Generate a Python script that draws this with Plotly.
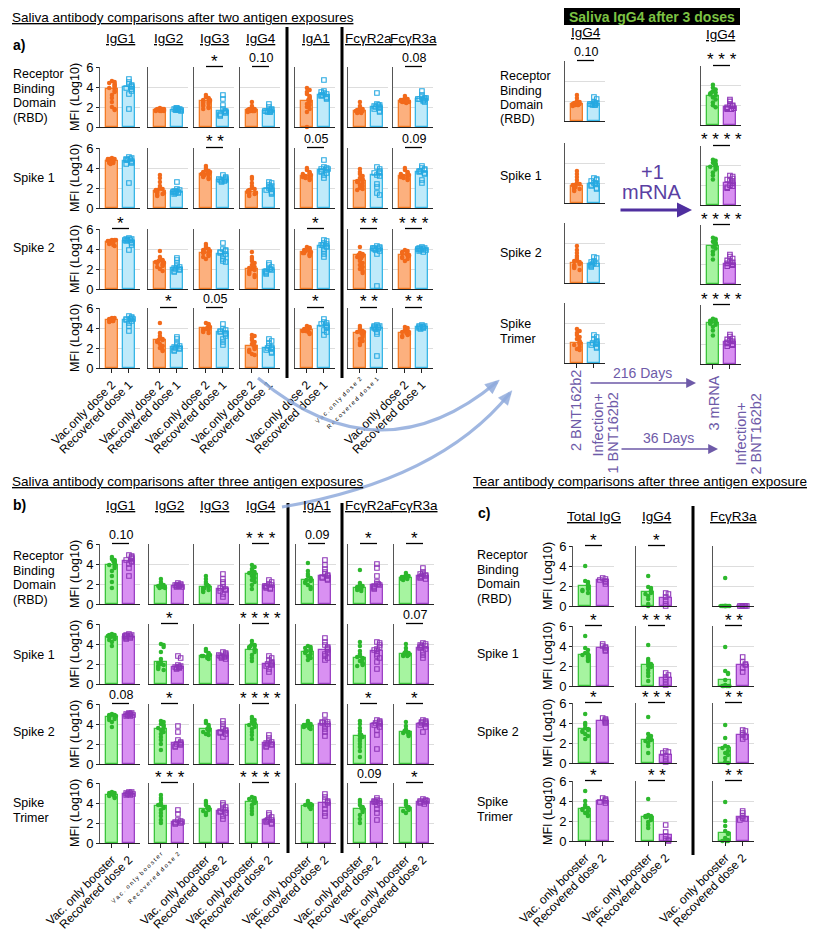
import plotly.graph_objects as go

W, H = 830, 952
OX, OY = 8, 8          # page body margin of the browser
FW, FH = W - OX, H - OY
FONT = "Arial, Liberation Sans, sans-serif"

# ======================= DATA =======================
a_columns = ["IgG1", "IgG2", "IgG3", "IgG4", "IgA1", "FcγR2a", "FcγR3a"]
a_rows = ["Receptor<br>Binding<br>Domain<br>(RBD)", "Spike 1", "Spike 2", ""]
a_groups = ["Vac.only dose 2", "Recovered dose 1"]

a_bar_vac = [[3.8, 1.7, 2.6, 1.7, 2.6, 1.6, 2.6],
             [4.7, 1.7, 3.4, 1.6, 3.2, 2.7, 3.2],
             [4.7, 2.7, 3.6, 2.0, 3.7, 3.4, 3.4],
             [4.8, 2.8, 4.0, 2.2, 3.8, 3.5, 3.5]]
a_bar_rec = [[4.0, 1.7, 1.6, 1.6, 3.2, 2.0, 2.8],
             [4.7, 1.6, 2.8, 1.9, 3.8, 3.3, 3.6],
             [4.8, 2.1, 3.5, 1.9, 4.3, 4.0, 4.0],
             [4.8, 2.1, 3.6, 2.0, 4.2, 4.0, 4.1]]
a_pts_vac = [
    [[4.6, 4.5, 4.4, 4.3, 4.2, 4.1, 4.0, 3.9, 3.8, 3.6, 3.5, 3.2, 2.9, 2.5, 2.0, 1.8, 1.7],
     [1.9, 1.8, 1.8, 1.7, 1.7, 1.7, 1.6, 1.6, 1.7, 1.8, 1.6, 1.7, 1.7, 1.6, 1.8, 1.7],
     [3.2, 3.0, 2.9, 2.8, 2.7, 2.6, 2.5, 2.5, 2.4, 2.3, 2.2, 2.1, 2.0, 1.9, 1.8, 2.6, 2.7],
     [2.5, 2.1, 1.9, 1.8, 1.7, 1.7, 1.6, 1.6, 1.7, 1.8, 1.6, 1.5, 1.7, 1.6, 1.8, 1.7],
     [3.9, 3.7, 3.5, 3.3, 3.1, 3.0, 2.9, 2.8, 2.6, 2.5, 2.3, 2.2, 2.0, 1.8, 1.5, 0.0, 2.7],
     [2.5, 2.1, 1.9, 1.8, 1.7, 1.6, 1.6, 1.5, 1.5, 1.4, 1.4, 1.6, 1.7, 1.5, 1.8, 1.6],
     [3.1, 2.9, 2.8, 2.7, 2.6, 2.6, 2.5, 2.5, 2.6, 2.7, 2.5, 2.4, 2.6, 2.7, 2.5, 2.6]],
    [[5.0, 4.9, 4.9, 4.8, 4.8, 4.7, 4.7, 4.6, 4.6, 4.5, 4.5, 4.4, 4.8, 4.7, 4.6, 4.9],
     [3.3, 3.0, 2.6, 2.2, 2.0, 1.9, 1.8, 1.7, 1.6, 1.5, 1.4, 1.3, 1.2, 1.5, 1.7, 1.8],
     [4.2, 4.0, 3.8, 3.7, 3.6, 3.5, 3.4, 3.3, 3.2, 3.1, 3.0, 2.9, 3.5, 3.3, 3.4, 3.6],
     [3.1, 2.9, 2.5, 2.2, 2.0, 1.9, 1.8, 1.7, 1.6, 1.5, 1.4, 1.3, 1.2, 1.5, 1.7, 1.6],
     [4.0, 3.8, 3.6, 3.5, 3.4, 3.3, 3.2, 3.1, 3.0, 2.9, 2.8, 3.2, 3.3, 3.1, 3.4, 3.0],
     [3.9, 3.6, 3.4, 3.2, 3.0, 2.9, 2.8, 2.7, 2.6, 2.5, 2.3, 2.2, 2.0, 1.9, 1.8, 2.7],
     [4.0, 3.8, 3.6, 3.5, 3.4, 3.3, 3.2, 3.1, 3.0, 2.9, 2.8, 3.2, 3.3, 3.1, 3.4, 3.0]],
    [[4.9, 4.9, 4.8, 4.8, 4.7, 4.7, 4.6, 4.6, 4.5, 4.4, 4.3, 4.8, 4.7, 4.9, 4.6],
     [3.8, 3.2, 3.0, 2.9, 2.8, 2.7, 2.6, 2.5, 2.4, 2.3, 2.2, 2.0, 1.8, 2.8, 2.6, 2.7],
     [4.5, 4.3, 4.1, 4.0, 3.9, 3.8, 3.7, 3.6, 3.5, 3.4, 3.3, 3.2, 3.0, 3.7, 3.8],
     [3.7, 3.2, 3.0, 2.8, 2.6, 2.4, 2.2, 2.0, 1.9, 1.8, 1.7, 1.6, 1.5, 1.4, 1.2, 2.1],
     [4.2, 4.1, 4.0, 3.9, 3.8, 3.7, 3.6, 3.5, 3.4, 3.3, 3.8, 3.7, 3.9, 3.6],
     [4.2, 3.6, 3.5, 3.4, 3.3, 3.2, 3.0, 2.8, 2.6, 2.4, 2.2, 2.0, 1.8, 1.6, 3.4, 3.1],
     [3.9, 3.8, 3.7, 3.6, 3.5, 3.4, 3.3, 3.2, 3.1, 3.0, 2.8, 3.5, 3.4, 3.3]],
    [[5.0, 5.0, 4.9, 4.9, 4.8, 4.8, 4.8, 4.7, 4.7, 4.6, 4.9, 4.8, 4.7],
     [4.5, 3.5, 3.2, 3.0, 2.9, 2.8, 2.7, 2.6, 2.4, 2.2, 2.0, 1.8, 1.7, 2.8],
     [4.5, 4.4, 4.3, 4.2, 4.1, 4.0, 3.9, 3.8, 3.7, 3.6, 3.5, 4.0, 4.1, 3.9],
     [3.3, 3.2, 3.0, 2.8, 2.6, 2.4, 2.2, 2.1, 2.0, 1.9, 1.8, 1.7, 1.6, 1.4, 1.3, 2.3],
     [4.2, 4.1, 4.0, 3.9, 3.9, 3.8, 3.8, 3.7, 3.6, 3.5, 3.4, 3.7, 3.9],
     [4.2, 4.0, 3.8, 3.7, 3.6, 3.5, 3.4, 3.3, 3.1, 2.9, 2.7, 2.5, 2.3, 3.5, 3.6],
     [4.1, 4.0, 3.8, 3.7, 3.6, 3.5, 3.4, 3.3, 3.2, 3.1, 3.5, 3.6, 3.4]]]
a_pts_rec = [
    [[4.8, 4.5, 4.3, 4.2, 4.1, 4.0, 3.9, 3.8, 3.6, 3.3, 1.8],
     [1.9, 1.8, 1.8, 1.7, 1.7, 1.7, 1.6, 1.8, 1.7, 1.9],
     [3.2, 2.8, 2.2, 1.8, 1.6, 1.5, 1.4, 1.3, 1.2, 1.1, 1.6],
     [2.3, 2.0, 1.8, 1.7, 1.6, 1.6, 1.5, 1.5, 1.6, 1.7, 1.5],
     [4.7, 3.6, 3.4, 3.3, 3.2, 3.1, 3.0, 2.9, 2.8, 3.5, 3.2],
     [3.4, 2.3, 2.2, 2.1, 2.0, 1.9, 1.8, 1.6, 1.5, 2.2, 2.0],
     [3.6, 3.2, 3.0, 2.9, 2.8, 2.8, 2.7, 2.6, 2.5, 2.9, 2.8]],
    [[5.1, 5.0, 4.9, 4.9, 4.8, 4.7, 4.6, 4.5, 4.4, 2.5, 4.8],
     [2.6, 1.9, 1.8, 1.7, 1.6, 1.6, 1.5, 1.5, 1.4, 1.6, 1.7],
     [3.3, 3.1, 3.0, 2.9, 2.8, 2.8, 2.7, 2.7, 2.6, 2.9],
     [2.6, 2.5, 2.3, 2.2, 2.0, 1.9, 1.8, 1.6, 1.5, 1.4, 2.1],
     [4.8, 4.1, 4.0, 3.9, 3.8, 3.7, 3.6, 3.5, 3.3, 3.0, 3.9],
     [4.1, 3.9, 3.7, 3.6, 3.5, 3.3, 3.2, 2.4, 2.1, 1.5, 1.3, 3.5],
     [4.2, 4.0, 3.9, 3.8, 3.7, 3.6, 3.5, 3.4, 2.8, 2.5, 3.7]],
    [[5.1, 5.0, 5.0, 4.9, 4.9, 4.8, 4.7, 4.6, 4.4, 3.9, 4.9],
     [3.1, 2.9, 2.6, 2.3, 2.2, 2.1, 2.0, 1.9, 1.8, 1.7, 2.0],
     [4.6, 4.0, 3.9, 3.8, 3.7, 3.6, 3.5, 3.3, 3.0, 2.8, 2.7],
     [2.6, 2.4, 2.2, 2.0, 1.9, 1.8, 1.7, 1.6, 1.5, 2.0],
     [4.9, 4.8, 4.6, 4.5, 4.4, 4.3, 4.2, 4.0, 3.8, 3.5, 3.2, 4.4],
     [4.3, 4.2, 4.1, 4.1, 4.0, 4.0, 3.9, 3.8, 3.5, 0.3, 4.1],
     [4.2, 4.1, 4.1, 4.0, 4.0, 3.9, 3.9, 3.8, 3.7, 4.0]],
    [[5.2, 5.1, 5.0, 4.9, 4.9, 4.8, 4.7, 4.5, 4.2, 3.7, 4.9],
     [3.1, 2.9, 2.5, 2.3, 2.2, 2.1, 2.0, 1.9, 1.8, 1.7, 2.0],
     [4.4, 3.9, 3.8, 3.7, 3.6, 3.5, 3.4, 3.2, 2.9, 2.6, 2.3],
     [2.9, 2.7, 2.5, 2.2, 2.1, 2.0, 1.9, 1.8, 1.6, 1.5, 2.0],
     [4.9, 4.6, 4.5, 4.4, 4.3, 4.2, 4.1, 4.0, 3.8, 3.6, 3.3],
     [4.3, 4.2, 4.2, 4.1, 4.1, 4.0, 4.0, 3.9, 3.6, 3.4, 1.2],
     [4.3, 4.2, 4.2, 4.1, 4.1, 4.0, 4.0, 3.9, 4.1]]]
a_sig = [["", "", "*", "0.10", "", "", "0.08"],
         ["", "", "**", "", "0.05", "", "0.09"],
         ["*", "", "", "", "*", "**", "***"],
         ["", "*", "0.05", "", "*", "**", "**"]]

# Saliva IgG4 after 3 doses
r_rows = ["Receptor<br>Binding<br>Domain<br>(RBD)", "Spike 1", "Spike 2", "Spike<br>Trimer"]
r_groups_left = ["2 BNT162b2", "Infection+<br>1 BNT162b2"]
r_groups_right = ["3 mRNA", "Infection+<br>2 BNT162b2"]
r_bar_2dose = [1.7, 1.7, 2.0, 2.0]
r_bar_inf1 = [1.7, 1.9, 1.9, 2.0]
r_bar_3mrna = [3.0, 3.9, 3.9, 4.2]
r_bar_inf2 = [1.8, 2.2, 2.0, 2.2]
r_pts_2dose = [[2.6, 2.3, 2.0, 1.9, 1.8, 1.7, 1.7, 1.6, 1.6, 1.7, 1.8, 1.6, 1.5, 1.7],
               [3.2, 2.9, 2.6, 2.3, 2.0, 1.9, 1.8, 1.7, 1.6, 1.5, 1.4, 1.3, 1.2, 1.6, 1.8],
               [3.7, 3.3, 3.0, 2.7, 2.5, 2.3, 2.1, 2.0, 1.9, 1.8, 1.7, 1.6, 1.5, 1.3, 2.2],
               [3.4, 3.2, 3.0, 2.8, 2.6, 2.4, 2.2, 2.1, 2.0, 1.9, 1.8, 1.6, 1.4, 1.3]]
r_pts_inf1 = [[2.4, 2.2, 1.9, 1.8, 1.7, 1.7, 1.6, 1.6, 1.7, 1.8, 1.6],
              [2.5, 2.4, 2.3, 2.2, 2.0, 1.9, 1.8, 1.7, 1.5, 1.4, 2.0],
              [2.6, 2.5, 2.2, 2.0, 1.9, 1.8, 1.7, 1.6, 2.1, 1.9],
              [2.8, 2.6, 2.4, 2.2, 2.1, 2.0, 1.9, 1.8, 1.6, 1.5, 2.0]]
r_pts_3mrna = [[4.1, 3.8, 3.6, 3.4, 3.3, 3.2, 3.1, 3.0, 2.8, 2.6, 2.3, 2.0, 1.8, 3.3],
               [4.6, 4.5, 4.3, 4.2, 4.1, 4.0, 3.9, 3.8, 3.6, 3.3, 3.0, 2.6, 4.2],
               [4.7, 4.6, 4.5, 4.3, 4.2, 4.1, 4.0, 3.8, 3.6, 3.3, 3.0, 2.5, 4.2],
               [4.6, 4.5, 4.4, 4.3, 4.2, 4.2, 4.1, 4.0, 3.8, 3.4, 2.9, 4.3]]
r_pts_inf2 = [[2.6, 2.4, 2.1, 2.0, 1.9, 1.8, 1.7, 1.6, 1.6, 1.7],
              [3.0, 2.9, 2.7, 2.5, 2.4, 2.2, 2.0, 1.9, 1.8, 1.7, 2.6],
              [3.0, 2.8, 2.6, 2.3, 2.2, 2.1, 2.0, 1.9, 1.8, 2.4],
              [3.0, 2.8, 2.6, 2.4, 2.3, 2.2, 2.1, 2.0, 1.9, 1.8, 2.5]]
r_sig_left = ["0.10", "", "", ""]
r_sig_right = ["***", "****", "****", "****"]

# Panel b: saliva, three antigen exposures
b_rows = ["Receptor<br>Binding<br>Domain<br>(RBD)", "Spike 1", "Spike 2", "Spike<br>Trimer"]
b_groups = ["Vac. only booster", "Recovered dose 2"]
b_bar_vac = [[3.9, 1.8, 1.7, 3.0, 2.4, 1.6, 2.6],
             [4.7, 2.2, 2.8, 3.4, 3.2, 2.6, 3.0],
             [4.7, 3.5, 3.5, 3.9, 3.8, 2.8, 3.2],
             [4.8, 3.7, 3.4, 4.1, 3.7, 3.4, 3.5]]
b_bar_rec = [[4.3, 1.8, 1.5, 1.8, 2.8, 1.9, 2.8],
             [4.7, 1.7, 2.8, 2.0, 3.4, 3.3, 3.6],
             [4.9, 2.1, 3.3, 2.1, 4.0, 4.0, 4.0],
             [4.9, 2.1, 3.2, 2.3, 4.0, 4.1, 4.1]]
b_pts_vac = [
    [[4.7, 4.5, 4.4, 4.3, 4.2, 4.1, 4.0, 3.9, 3.8, 3.6, 3.3, 2.8, 2.2, 1.6, 4.3],
     [2.5, 2.2, 2.0, 1.9, 1.8, 1.8, 1.7, 1.7, 1.6, 1.6, 1.8, 1.9, 1.7],
     [2.8, 2.5, 2.2, 2.0, 1.8, 1.7, 1.6, 1.5, 1.4, 1.3, 1.2, 1.9, 1.6],
     [3.9, 3.7, 3.5, 3.3, 3.2, 3.1, 3.0, 2.8, 2.6, 2.4, 2.2, 1.9, 1.5, 3.2],
     [4.1, 3.3, 3.0, 2.8, 2.6, 2.5, 2.4, 2.3, 2.2, 2.1, 1.9, 1.7, 1.5, 2.4],
     [3.4, 2.1, 1.9, 1.8, 1.7, 1.6, 1.6, 1.5, 1.5, 1.4, 1.3, 1.7, 1.6],
     [3.1, 2.9, 2.8, 2.7, 2.6, 2.6, 2.5, 2.5, 2.4, 2.6, 2.7, 2.5]],
    [[5.0, 4.9, 4.9, 4.8, 4.8, 4.7, 4.6, 4.5, 4.4, 4.2, 3.8, 4.7, 4.8],
     [4.0, 3.9, 3.7, 3.2, 2.5, 2.2, 2.0, 1.9, 1.8, 1.7, 1.6, 1.5, 1.4, 2.1],
     [3.5, 3.3, 3.1, 3.0, 2.9, 2.8, 2.8, 2.7, 2.6, 2.5, 2.9, 2.8],
     [4.3, 4.0, 3.9, 3.8, 3.7, 3.6, 3.5, 3.4, 3.2, 2.9, 2.6, 2.3, 3.8],
     [3.8, 3.7, 3.6, 3.5, 3.4, 3.3, 3.2, 3.1, 3.0, 2.8, 2.6, 2.4, 3.3],
     [4.2, 3.8, 3.3, 3.0, 2.8, 2.6, 2.5, 2.3, 2.1, 2.0, 1.9, 1.8, 2.7],
     [4.0, 3.6, 3.3, 3.1, 3.0, 2.9, 2.9, 2.8, 2.8, 3.0, 3.1]],
    [[5.0, 4.9, 4.9, 4.8, 4.7, 4.7, 4.6, 4.5, 4.4, 4.2, 3.7, 4.8],
     [4.3, 4.2, 4.0, 3.9, 3.8, 3.6, 3.4, 3.2, 3.0, 2.7, 2.4, 2.0, 1.4, 3.6],
     [4.3, 4.1, 3.9, 3.7, 3.6, 3.5, 3.4, 3.3, 3.2, 3.0, 2.9, 3.5],
     [4.7, 4.5, 4.4, 4.2, 4.1, 4.0, 3.9, 3.7, 3.5, 3.2, 2.9, 2.5, 4.0],
     [4.3, 4.1, 4.0, 3.9, 3.8, 3.8, 3.7, 3.6, 3.5, 3.9, 3.7],
     [4.3, 4.0, 3.6, 3.3, 3.0, 2.8, 2.7, 2.5, 2.3, 2.0, 1.7, 1.3, 0.7, 2.9],
     [4.2, 3.8, 3.5, 3.3, 3.2, 3.1, 3.0, 2.9, 2.8, 3.2, 3.3]],
    [[5.1, 5.0, 5.0, 4.9, 4.9, 4.8, 4.8, 4.7, 4.6, 4.5, 4.9],
     [4.8, 4.5, 4.3, 4.0, 3.8, 3.6, 3.5, 3.3, 3.0, 2.7, 2.3, 2.0, 3.8],
     [4.2, 4.0, 3.8, 3.6, 3.5, 3.4, 3.3, 3.2, 3.0, 2.8, 3.5],
     [4.6, 4.5, 4.4, 4.3, 4.2, 4.1, 4.0, 3.8, 3.5, 3.2, 2.9, 4.2],
     [4.2, 4.0, 3.9, 3.8, 3.8, 3.7, 3.6, 3.5, 3.4, 3.8],
     [4.3, 4.1, 3.8, 3.6, 3.5, 3.4, 3.3, 3.1, 2.8, 2.4, 2.0, 3.5],
     [4.2, 4.0, 3.8, 3.6, 3.5, 3.4, 3.3, 3.2, 3.0, 3.5]]]
b_pts_rec = [
    [[4.9, 4.8, 4.7, 4.6, 4.5, 4.4, 4.3, 4.2, 4.0, 3.6, 2.8],
     [2.1, 2.0, 1.9, 1.9, 1.8, 1.8, 1.7, 1.7, 1.8, 1.9],
     [3.0, 2.5, 2.2, 2.0, 1.7, 1.5, 1.4, 1.3, 1.0, 0.7, 1.6],
     [2.4, 2.2, 2.0, 1.9, 1.8, 1.7, 1.6, 1.6, 1.5, 1.8],
     [4.4, 3.9, 3.5, 3.2, 3.0, 2.9, 2.8, 2.7, 2.6, 2.5, 2.4],
     [4.0, 3.6, 2.8, 2.2, 2.0, 1.9, 1.8, 1.7, 1.6, 1.5, 2.0],
     [3.6, 3.2, 3.0, 2.9, 2.8, 2.7, 2.6, 2.5, 2.8, 3.0]],
    [[5.0, 4.9, 4.9, 4.8, 4.8, 4.7, 4.7, 4.6, 4.6, 4.5, 4.8],
     [2.8, 2.6, 1.9, 1.8, 1.7, 1.7, 1.6, 1.6, 1.5, 1.7],
     [3.2, 3.1, 3.0, 2.9, 2.8, 2.8, 2.7, 2.7, 2.6, 2.5, 2.9],
     [2.8, 2.6, 2.4, 2.2, 2.1, 2.0, 1.9, 1.8, 1.5, 1.2, 2.0],
     [4.6, 4.2, 3.9, 3.7, 3.6, 3.5, 3.4, 3.2, 3.0, 2.8, 2.6, 2.4],
     [4.2, 4.1, 3.9, 3.7, 3.5, 3.3, 3.0, 2.8, 2.6, 2.2, 1.5, 3.4],
     [4.1, 4.0, 3.9, 3.8, 3.7, 3.6, 3.5, 3.2, 2.9, 2.6, 3.8]],
    [[5.1, 5.1, 5.0, 5.0, 4.9, 4.9, 4.8, 4.8, 4.9, 5.0],
     [3.8, 3.2, 2.4, 2.2, 2.1, 2.0, 1.9, 1.8, 1.7, 2.0],
     [4.3, 4.0, 3.7, 3.5, 3.4, 3.3, 3.2, 3.1, 3.0, 2.7],
     [2.9, 2.6, 2.3, 2.2, 2.1, 2.0, 1.9, 1.8, 1.7, 2.0],
     [4.9, 4.3, 4.2, 4.2, 4.1, 4.0, 3.8, 3.5, 3.2, 2.8],
     [4.4, 4.3, 4.2, 4.1, 4.0, 3.9, 3.7, 3.4, 2.9, 1.5, 4.1],
     [4.4, 4.3, 4.2, 4.1, 4.0, 3.9, 3.7, 3.2, 4.1, 4.2]],
    [[5.1, 5.1, 5.0, 5.0, 4.9, 4.9, 4.8, 4.8, 4.9],
     [3.3, 2.9, 2.3, 2.2, 2.1, 2.0, 2.0, 1.9, 2.1],
     [4.0, 3.8, 3.6, 3.4, 3.3, 3.2, 3.1, 3.0, 2.7, 2.4],
     [3.0, 2.8, 2.6, 2.4, 2.3, 2.2, 2.1, 2.0, 1.9, 2.3],
     [4.9, 4.6, 4.3, 4.2, 4.1, 4.0, 3.8, 3.4, 3.0, 2.7],
     [4.5, 4.3, 4.2, 4.2, 4.1, 4.0, 3.8, 3.4, 3.0, 2.3, 4.1],
     [4.4, 4.3, 4.2, 4.2, 4.1, 4.1, 4.0, 3.9, 4.2]]]
b_sig = [["0.10", "", "", "***", "0.09", "*", "*"],
         ["", "*", "", "****", "", "", "0.07"],
         ["0.08", "*", "", "****", "", "*", "*"],
         ["", "***", "", "****", "", "0.09", "*"]]

# Panel c: tears, three antigen exposures
c_columns = ["Total IgG", "IgG4", "FcγR3a"]
c_rows = ["Receptor<br>Binding<br>Domain<br>(RBD)", "Spike 1", "Spike 2", "Spike<br>Trimer"]
c_bar_vac = [[2.0, 1.4, 0.05], [3.1, 2.1, 0.6], [3.4, 2.3, 1.5], [3.2, 2.4, 0.8]]
c_bar_rec = [[2.6, 0.8, 0.05], [3.8, 0.8, 2.1], [4.2, 0.8, 2.8], [4.0, 0.6, 2.4]]
c_pts_vac = [
    [[4.0, 2.5, 2.4, 2.2, 2.1, 2.0, 1.8, 1.7, 1.6, 1.5, 1.3],
     [3.0, 1.9, 1.8, 1.6, 1.5, 1.3, 1.0, 0.7, 0.2, 0.0, 1.2],
     [2.8, 0, 0, 0, 0, 0, 0, 0, 0, 0, 0]],
    [[5.0, 3.8, 3.6, 3.3, 3.2, 3.1, 3.0, 2.9, 2.8, 2.6, 2.5],
     [4.1, 2.7, 2.5, 2.3, 2.2, 2.0, 1.9, 1.6, 1.3, 1.0, 0.5],
     [3.9, 1.5, 1.3, 1.2, 0.6, 0.1, 0, 0, 0, 0, 0]],
    [[4.9, 4.0, 3.8, 3.5, 3.4, 3.3, 3.2, 3.1, 2.9, 2.7, 2.4],
     [4.6, 2.9, 2.7, 2.5, 2.4, 2.3, 2.2, 2.0, 1.7, 1.0, 2.3],
     [3.8, 2.5, 1.7, 1.6, 1.5, 1.0, 0.8, 0.5, 0.1, 0.0, 1.2]],
    [[5.0, 4.0, 3.6, 3.4, 3.3, 3.2, 3.1, 3.0, 2.8, 2.6, 2.5],
     [4.2, 2.6, 2.5, 2.5, 2.4, 2.3, 2.1, 1.9, 1.6, 1.3, 2.4],
     [3.9, 2.0, 1.5, 1.0, 0.8, 0.7, 0.3, 0.1, 0, 0, 0]]]
c_pts_rec = [
    [[2.8, 2.7, 2.6, 2.5, 2.4, 2.2],
     [1.3, 1.2, 0.9, 0.5, 0.2, 0.0],
     [0, 0, 0, 0, 0, 0]],
    [[4.2, 4.0, 3.9, 3.8, 3.6, 3.5],
     [1.3, 1.1, 0.9, 0.7, 0.4, 0.1],
     [2.9, 2.4, 2.2, 2.1, 1.8, 1.4]],
    [[4.5, 4.4, 4.3, 4.2, 4.1, 4.0],
     [1.2, 1.1, 1.0, 0.7, 0.4, 0.1],
     [3.3, 3.2, 3.0, 2.8, 2.6, 2.4]],
    [[4.3, 4.2, 4.1, 4.0, 3.9, 3.8],
     [1.6, 0.9, 0.5, 0.2, 0.1, 0.0],
     [3.0, 2.8, 2.5, 2.3, 2.2, 2.1]]]
c_sig = [["*", "*", ""], ["*", "***", "**"], ["*", "***", "**"], ["*", "**", "**"]]

y_ticks = [0, 2, 4, 6]

# ======================= STYLE / LAYOUT =======================
ORANGE = dict(fill="#FCB07E", line="#F37B25", pt="#F26A1B", sym="circle")
BLUE = dict(fill="#BFEAFA", line="#38B6E6", pt="#27A9E1", sym="square-open")
GREEN = dict(fill="#A6F4A0", line="#3CC43C", pt="#2DB82D", sym="circle")
PURPLE = dict(fill="#D990F2", line="#9B42C4", pt="#8E36B8", sym="square-open")
LAB = "#6E5AA8"


def PX(x):
    return (x - OX) / FW


def PY(y):
    return 1 - (y - OY) / FH


fig = go.Figure()
layout = {}
annotations = []
shapes = []
counter = [0]


def jitter(vals):
    offs = [0.0, 0.16, -0.16, 0.08, -0.08, 0.24, -0.24, 0.04, -0.04]
    placed, xs = [], []
    for v in vals:
        cnt = sum(1 for p in placed if abs(p - v) < 0.2)
        xs.append(offs[cnt % len(offs)])
        placed.append(v)
    return xs


def text(x, y, s, size=12.5, color="black", xanchor="left", yanchor="middle",
         angle=0, bold=False):
    if bold:
        s = "<b>" + s + "</b>"
    annotations.append(dict(x=PX(x), y=PY(y), xref="paper", yref="paper", text=s,
                            showarrow=False, font=dict(family=FONT, size=size, color=color),
                            xanchor=xanchor, yanchor=yanchor, textangle=angle, borderpad=0))


def multiline(x, y0, s, step=14.5, size=12.5):
    for i, line in enumerate(s.split("<br>")):
        if line:
            text(x, y0 + i * step, line, size=size)


def subplot(left, top, zero, bars, pts, c1, c2, sig="", ylabels=False,
            ticktext=None, tickfont=12, bottom_ticks=False, width=40):
    counter[0] += 1
    k = counter[0]
    xs = "" if k == 1 else str(k)
    xaxis = dict(domain=[PX(left), PX(left + width)], range=[-0.7, 1.65], anchor="y" + xs,
                 showline=True, linecolor="#222", linewidth=1.2, showgrid=False,
                 zeroline=False, tickmode="array", tickvals=[0, 1],
                 ticktext=ticktext if ticktext else ["", ""],
                 showticklabels=bool(ticktext), ticks="outside" if bottom_ticks else "",
                 ticklen=4, tickwidth=1, tickcolor="#222", tickangle=-45,
                 tickfont=dict(family=FONT, size=tickfont, color="black"),
                 fixedrange=True, automargin=False)
    yaxis = dict(domain=[PY(zero), PY(top)], range=[0, 6], anchor="x" + xs,
                 showline=True, linecolor="#555", linewidth=1, showgrid=True,
                 gridcolor="#DDDDDD", gridwidth=1, zeroline=False, tickmode="array",
                 tickvals=y_ticks, showticklabels=ylabels,
                 ticks="outside" if ylabels else "", ticklen=3, tickcolor="#222",
                 tickfont=dict(family=FONT, size=13, color="black"),
                 fixedrange=True, automargin=False)
    layout["xaxis" + xs] = xaxis
    layout["yaxis" + xs] = yaxis
    fig.add_trace(go.Bar(x=[0, 1], y=bars, width=0.7, xaxis="x" + xs, yaxis="y" + xs,
                         marker=dict(color=[c1["fill"], c2["fill"]],
                                     line=dict(color=[c1["line"], c2["line"]], width=1.3)),
                         showlegend=False, hoverinfo="skip"))
    for gi, (c, vals) in enumerate(zip((c1, c2), pts)):
        jx = jitter(vals)
        mk = dict(size=4.5, symbol=c["sym"], color=c["pt"])
        if c["sym"].endswith("open"):
            mk["line"] = dict(color=c["pt"], width=1.1)
        fig.add_trace(go.Scatter(x=[gi + j for j in jx], y=vals, mode="markers",
                                 marker=mk, xaxis="x" + xs, yaxis="y" + xs,
                                 showlegend=False, hoverinfo="skip", cliponaxis=False))
    if sig:
        cx = left + 20.5
        shapes.append(dict(type="line", xref="paper", yref="paper",
                           x0=PX(left + 12), x1=PX(left + 29), y0=PY(top - 0.5),
                           y1=PY(top - 0.5), line=dict(color="black", width=1.3)))
        if "*" in sig:
            text(cx, top - 6, " ".join(sig), size=17, xanchor="center", yanchor="middle")
        else:
            text(cx, top - 1, sig, size=12.5, xanchor="center", yanchor="bottom")


def spaced(s):
    return " ".join(s).replace("   ", "  ")


# ---------------- Panel a ----------------
a_left = [100, 148, 194, 240, 295, 348, 393]
a_top = [67, 148, 229, 308]
for r in range(4):
    top = a_top[r]
    for c in range(7):
        tt, tf = None, 12
        if r == 3:
            tt = a_groups
            if c == 5:
                tt, tf = [spaced(g) for g in a_groups], 6
        subplot(a_left[c], top, top + 60, [a_bar_vac[r][c], a_bar_rec[r][c]],
                [a_pts_vac[r][c], a_pts_rec[r][c]], ORANGE, BLUE, a_sig[r][c],
                ylabels=(c == 0), ticktext=tt, tickfont=tf, bottom_ticks=(r == 3))
    text(75, top + 30, "MFI (Log10)", size=12.5, xanchor="center", angle=-90)
for c in range(7):
    text(a_left[c] + 20.5, 38, "<u>" + a_columns[c] + "</u>", size=13.5, xanchor="center")
multiline(12, 74, a_rows[0])
text(12, 178, a_rows[1])
text(12, 248, a_rows[2])
text(11, 17, "<u>Saliva antibody comparisons after two antigen exposures</u>", size=13.5)
text(12, 45, "a)", size=14, bold=True)
for xv in (287, 342):
    shapes.append(dict(type="line", xref="paper", yref="paper", x0=PX(xv), x1=PX(xv),
                       y0=PY(27), y1=PY(378), line=dict(color="black", width=3)))

# ---------------- Right panel: Saliva IgG4 after 3 doses ----------------
rl_top = [61, 143, 223, 303]
rr_top = [66, 146, 225, 305]
for r in range(4):
    subplot(565, rl_top[r], rl_top[r] + 60, [r_bar_2dose[r], r_bar_inf1[r]],
            [r_pts_2dose[r], r_pts_inf1[r]], ORANGE, BLUE, r_sig_left[r],
            bottom_ticks=(r == 3))
    subplot(701, rr_top[r], rr_top[r] + 59, [r_bar_3mrna[r], r_bar_inf2[r]],
            [r_pts_3mrna[r], r_pts_inf2[r]], GREEN, PURPLE, r_sig_right[r],
            bottom_ticks=(r == 3))
shapes.append(dict(type="rect", xref="paper", yref="paper", x0=PX(564), x1=PX(740),
                   y0=PY(8), y1=PY(25), fillcolor="black", line=dict(width=0), layer="below"))
text(652, 17, "Saliva IgG4 after 3 doses", size=14, color="#7CC243",
     xanchor="center", bold=True)
text(586, 32, "<u>IgG4</u>", size=13.5, xanchor="center")
text(721, 35, "<u>IgG4</u>", size=13.5, xanchor="center")
multiline(499, 76, r_rows[0])
text(499, 176, r_rows[1])
text(499, 253, r_rows[2])
multiline(499, 324, r_rows[3])
# rotated category labels
text(576, 411, r_groups_left[0], size=14.5, color=LAB, xanchor="center", angle=-90)
inf1 = r_groups_left[1].split("<br>")
text(597, 393, inf1[0], size=14.5, color=LAB, xanchor="center", yanchor="top", angle=-90)
text(612, 392, inf1[1], size=14.5, color=LAB, xanchor="center", yanchor="top", angle=-90)
text(713, 375, r_groups_right[0], size=14.5, color=LAB, xanchor="center", yanchor="top", angle=-90)
inf2 = r_groups_right[1].split("<br>")
text(740, 402, inf2[0], size=14.5, color=LAB, xanchor="center", yanchor="top", angle=-90)
text(755, 393, inf2[1], size=14.5, color=LAB, xanchor="center", yanchor="top", angle=-90)
text(642, 373, "216 Days", size=14, color=LAB, xanchor="center")
text(668, 438, "36 Days", size=14, color=LAB, xanchor="center")
text(652, 172, "+1", size=20, color="#5A3FA3", xanchor="center")
text(652, 192, "mRNA", size=20, color="#5A3FA3", xanchor="center")
for (x1, y1, dx, wdt, col) in [(696, 383, -107, 1.4, LAB), (718, 449, -98, 1.4, LAB),
                               (692, 210, -73, 3, "#4F2F9F")]:
    annotations.append(dict(x=PX(x1), y=PY(y1), xref="paper", yref="paper", ax=dx, ay=0,
                            text="", showarrow=True, arrowhead=2, arrowsize=1 if wdt > 2 else 1.4,
                            arrowwidth=wdt, arrowcolor=col))

# ---------------- Panel b ----------------
b_left = [100, 149, 194, 240, 296, 348, 394]
b_top = [544, 624, 704, 783]
for r in range(4):
    top = b_top[r]
    for c in range(7):
        tt, tf = None, 12
        if r == 3:
            tt = b_groups
            if c == 1:
                tt, tf = [spaced(g) for g in b_groups], 6
        subplot(b_left[c], top, top + 60, [b_bar_vac[r][c], b_bar_rec[r][c]],
                [b_pts_vac[r][c], b_pts_rec[r][c]], GREEN, PURPLE, b_sig[r][c],
                ylabels=(c == 0), ticktext=tt, tickfont=tf, bottom_ticks=(r == 3))
    text(75, top + 30, "MFI (Log10)", size=12.5, xanchor="center", angle=-90)
for c in range(7):
    text(b_left[c] + 20.5, 505, "<u>" + a_columns[c] + "</u>", size=13.5, xanchor="center")
multiline(12, 556, b_rows[0])
text(12, 655, b_rows[1])
text(12, 732, b_rows[2])
multiline(12, 803, b_rows[3])
text(11, 481, "<u>Saliva antibody comparisons after three antigen exposures</u>", size=13.5)
text(12, 505, "b)", size=14, bold=True)
for xv in (288, 342):
    shapes.append(dict(type="line", xref="paper", yref="paper", x0=PX(xv), x1=PX(xv),
                       y0=PY(503), y1=PY(853), line=dict(color="black", width=3)))

# ---------------- Panel c ----------------
c_left = [573, 636, 713]
c_top = [546, 626, 703, 781]
for r in range(4):
    top = c_top[r]
    for c in range(3):
        subplot(c_left[c], top, top + 60, [c_bar_vac[r][c], c_bar_rec[r][c]],
                [c_pts_vac[r][c], c_pts_rec[r][c]], GREEN, PURPLE, c_sig[r][c],
                ylabels=(c == 0), ticktext=b_groups if r == 3 else None,
                bottom_ticks=(r == 3), width=41)
    text(548, top + 30, "MFI (Log10)", size=12.5, xanchor="center", angle=-90)
for c in range(3):
    text(c_left[c] + 20.5, 517, "<u>" + c_columns[c] + "</u>", size=13.5, xanchor="center")
multiline(476, 555, c_rows[0])
text(476, 654, c_rows[1])
text(476, 732, c_rows[2])
multiline(476, 802, c_rows[3])
text(472, 481, "<u>Tear antibody comparisons after three antigen exposure</u>", size=13.5)
text(477, 513, "c)", size=14, bold=True)
shapes.append(dict(type="line", xref="paper", yref="paper", x0=PX(693), x1=PX(693),
                   y0=PY(506), y1=PY(855), line=dict(color="black", width=3)))

# ---------------- curved connector arrows ----------------
ARC = "rgba(143,170,220,0.85)"
for (p0, pc, p1) in [((258, 378), (380, 480), (497, 382)),
                     ((282, 507), (440, 480), (510, 393))]:
    path = "M {:.5f},{:.5f} Q {:.5f},{:.5f} {:.5f},{:.5f}".format(
        PX(p0[0]), PY(p0[1]), PX(pc[0]), PY(pc[1]), PX(p1[0]), PY(p1[1]))
    shapes.append(dict(type="path", xref="paper", yref="paper", path=path,
                       line=dict(color=ARC, width=3)))
    dx, dy = p1[0] - pc[0], p1[1] - pc[1]
    L = (dx * dx + dy * dy) ** 0.5
    ux, uy = dx / L, dy / L
    bx, by = p1[0] - ux * 11, p1[1] - uy * 11
    lx, ly = bx - uy * 6, by + ux * 6
    rx, ry = bx + uy * 6, by - ux * 6
    tri = "M {:.5f},{:.5f} L {:.5f},{:.5f} L {:.5f},{:.5f} Z".format(
        PX(p1[0] + ux * 3), PY(p1[1] + uy * 3), PX(lx), PY(ly), PX(rx), PY(ry))
    shapes.append(dict(type="path", xref="paper", yref="paper", path=tri,
                       fillcolor=ARC, line=dict(color=ARC, width=0.5)))

layout.update(width=FW, height=FH, margin=dict(l=0, r=0, t=0, b=0),
              paper_bgcolor="white", plot_bgcolor="white", template="none",
              showlegend=False, annotations=annotations, shapes=shapes,
              bargap=0, font=dict(family=FONT, size=12, color="black"))
fig.update_layout(**layout)
fig.write_html("out.html")
